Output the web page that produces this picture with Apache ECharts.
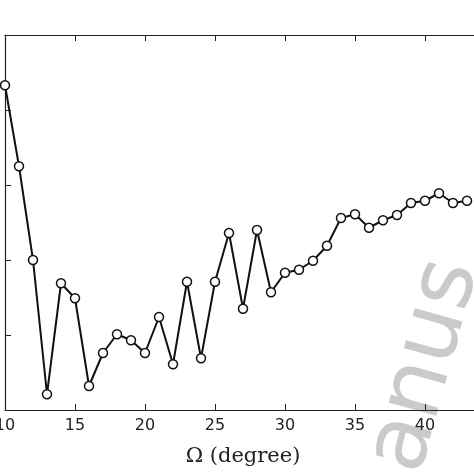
<!DOCTYPE html>
<html><head><meta charset="utf-8">
<script src="https://cdn.jsdelivr.net/npm/echarts@6/dist/echarts.min.js"></script>
<style>html,body{margin:0;padding:0;background:#fff;overflow:hidden}#c{width:474px;height:474px}</style>
</head><body><div id="c"></div>
<script>
// 数据：从图中读取
const omega = [10,11,12,13,14,15,16,17,18,19,20,21,22,23,24,25,26,27,28,29,30,31,32,33,34,35,36,37,38,39,40,41,42,43];
const values = [4.33,3.25,2.0,0.21,1.69,1.49,0.32,0.76,1.01,0.93,0.76,1.24,0.61,1.71,0.69,1.71,2.36,1.35,2.4,1.57,1.83,1.87,1.99,2.19,2.56,2.61,2.43,2.53,2.6,2.76,2.79,2.89,2.76,2.79];
const xTicks = [10,15,20,25,30,35,40];

const chart = echarts.init(document.getElementById('c'));
const axisCommon = {
  type: 'value', min: 10, max: 44, interval: 5,
  axisLine: { lineStyle: { color: '#222', width: 1.2 } },
  axisTick: { inside: true, length: 6, lineStyle: { color: '#222' } },
  splitLine: { show: false }
};
chart.setOption({
  animation: false,
  grid: { left: 5, top: 35, width: 476, bottom: 64, outerBoundsMode: 'none', containLabel: false },
  xAxis: [Object.assign({}, axisCommon, {
    name: 'Ω (degree)', nameLocation: 'middle', nameGap: 36,
    nameTextStyle: { fontFamily: 'DejaVu Serif', fontSize: 21, color: '#222' },
    axisLabel: { fontFamily: 'DejaVu Sans', fontSize: 16, color: '#222', margin: 8,
      formatter: v => xTicks.includes(v) ? String(v) : '' }
  }), Object.assign({}, axisCommon, { position: 'top', axisLabel: { show: false } })],
  yAxis: {
    type: 'value', min: 0, max: 5, interval: 1,
    axisLine: { show: true, lineStyle: { color: '#222', width: 1.2 } },
    axisTick: { inside: true, length: 6, lineStyle: { color: '#222' } },
    axisLabel: { show: false },
    splitLine: { show: false }
  },
  series: [{
    type: 'line',
    data: omega.map((x, i) => [x, values[i]]),
    symbol: 'circle', symbolSize: 9, showAllSymbol: true,
    itemStyle: { color: '#fff', borderColor: '#111', borderWidth: 1.5 },
    lineStyle: { color: '#111', width: 2 }
  }],
  graphic: [{
    type: 'text', left: 330, top: 250, rotation: 1.3,
    style: { text: 'manus', fontFamily: 'DejaVu Sans', fontSize: 90, fill: 'rgba(150,150,150,0.5)' }
  }]
});
</script></body></html>
